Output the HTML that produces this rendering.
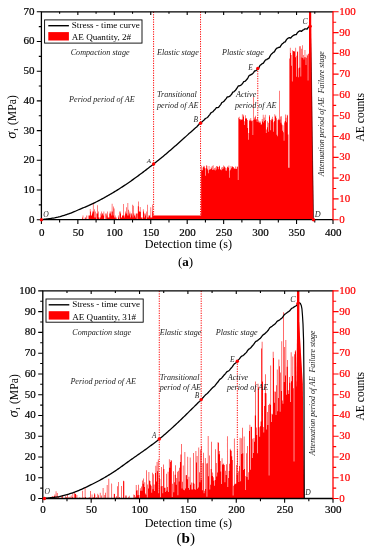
<!DOCTYPE html>
<html><head><meta charset="utf-8"><title>Stress - time curve and AE counts</title>
<style>html,body{margin:0;padding:0;background:#fff}svg{display:block}</style></head>
<body>
<svg width="370" height="550" viewBox="0 0 370 550">
<rect width="370" height="550" fill="#fff"/>
<path d="M82.22 219.7V217.62 H82.73V215.54 H83.24V219.7 H83.75V219.7 H84.27V219.7 H84.78V217.62 H85.29V217.62 H85.8V219.7 H86.31V215.54 H86.82V219.7 H87.33V219.7 H87.84V215.54 H88.35V219.7 H88.86V215.54 H89.37V215.54 H89.88V209.05 H90.39V211.38 H90.9V215.54 H91.41V215.54 H91.92V213.46 H92.43V211.38 H92.94V202.65 H93.45V211.38 H93.96V217.62 H94.47V209.3 H94.98V211.38 H95.49V217.62 H96V213.46 H96.51V219.7 H97.02V205.37 H97.53V213.46 H98.04V211.38 H98.55V217.62 H99.06V219.7 H99.57V217.62 H100.08V217.62 H100.59V213.46 H101.11V211.38 H101.62V215.54 H102.13V213.46 H102.64V213.46 H103.15V215.54 H103.66V211.38 H104.17V219.7 H104.68V219.7 H105.19V213.46 H105.7V219.7 H106.21V213.46 H106.72V215.54 H107.23V211.38 H107.74V217.62 H108.25V217.62 H108.76V217.62 H109.27V213.46 H109.78V211.38 H110.29V213.46 H110.8V211.38 H111.31V215.54 H111.82V203.82 H112.33V211.38 H112.84V215.54 H113.35V206.6 H113.86V208.5 H114.37V217.62 H114.88V215.54 H115.39V217.62 H115.9V219.7 H116.41V217.62 H116.92V219.7 H117.43V219.7 H117.95V215.54 H118.46V217.62 H118.97V211.38 H119.48V219.7 H119.99V211.38 H120.5V213.46 H121.01V217.62 H121.52V217.62 H122.03V215.54 H122.54V215.54 H123.05V204.11 H123.56V215.54 H124.07V217.62 H124.58V215.54 H125.09V211.38 H125.6V213.46 H126.11V207.23 H126.62V213.46 H127.13V215.54 H127.64V203.07 H128.15V209.68 H128.66V215.54 H129.17V213.46 H129.68V211.38 H130.19V217.62 H130.7V213.46 H131.21V213.46 H131.72V215.54 H132.23V204.72 H132.74V217.62 H133.25V205.82 H133.76V213.46 H134.27V215.54 H134.78V215.54 H135.3V217.62 H135.81V213.46 H136.32V213.46 H136.83V219.7 H137.34V213.46 H137.85V206.19 H138.36V201.39 H138.87V211.38 H139.38V211.38 H139.89V207.01 H140.4V211.65 H140.91V217.62 H141.42V217.62 H141.93V219.7 H142.44V217.62 H142.95V209.3 H143.46V211.38 H143.97V213.46 H144.48V217.62 H144.99V213.46 H145.5V215.54 H146.01V219.7 H146.52V211.38 H147.03V204.76 H147.54V217.62 H148.05V217.62 H148.56V215.54 H149.07V215.54 H149.58V215.54 H150.09V217.62 H150.6V207.23 H151.11V217.62 H151.62V217.62 H152.14V204.49 H152.65V211.38 H153.16V215.44 H153.67V215.44 H154.18V215.44 H154.69V215.44 H155.2V215.44 H155.71V215.44 H156.22V215.44 H156.73V215.44 H157.24V215.44 H157.75V215.44 H158.26V215.44 H158.77V215.44 H159.28V215.44 H159.79V215.44 H160.3V215.44 H160.81V215.44 H161.32V215.44 H161.83V215.44 H162.34V215.44 H162.85V215.44 H163.36V215.44 H163.87V215.44 H164.38V215.44 H164.89V215.44 H165.4V215.44 H165.91V215.44 H166.42V215.44 H166.93V215.44 H167.44V215.44 H167.95V215.44 H168.46V215.44 H168.98V215.44 H169.49V215.44 H170V215.44 H170.51V215.44 H171.02V215.44 H171.53V215.44 H172.04V215.44 H172.55V215.44 H173.06V215.44 H173.57V215.44 H174.08V215.44 H174.59V215.44 H175.1V215.44 H175.61V215.44 H176.12V215.44 H176.63V215.44 H177.14V215.44 H177.65V215.44 H178.16V215.44 H178.67V215.44 H179.18V215.44 H179.69V215.44 H180.2V215.44 H180.71V215.44 H181.22V215.44 H181.73V215.44 H182.24V215.44 H182.75V215.44 H183.26V215.44 H183.77V215.44 H184.28V215.44 H184.79V215.44 H185.3V215.44 H185.81V215.44 H186.33V215.44 H186.84V215.44 H187.35V215.44 H187.86V215.44 H188.37V215.44 H188.88V215.44 H189.39V215.44 H189.9V215.44 H190.41V215.44 H190.92V215.44 H191.43V215.44 H191.94V215.44 H192.45V215.44 H192.96V215.44 H193.47V215.44 H193.98V215.44 H194.49V215.44 H195V215.44 H195.51V215.44 H196.02V215.44 H196.53V215.44 H197.04V215.44 H197.55V215.44 H198.06V215.44 H198.57V215.44 H199.08V215.44 H199.59V215.44 H200.1V215.44 H200.61V215.44 H201.12V165.68 H201.63V170.33 H202.14V170.19 H202.65V167.62 H203.17V166.63 H203.68V165.71 H204.19V166.53 H204.7V168.19 H205.21V175.84 H205.72V168.29 H206.23V165.26 H206.74V165.7 H207.25V168.63 H207.76V170.14 H208.27V173.2 H208.78V166.01 H209.29V169.81 H209.8V169.35 H210.31V169.26 H210.82V167.32 H211.33V168.62 H211.84V165.94 H212.35V170.08 H212.86V165.34 H213.37V169.55 H213.88V169.68 H214.39V168.05 H214.9V170.62 H215.41V167.48 H215.92V169.52 H216.43V165.9 H216.94V166.19 H217.45V166.87 H217.96V167.02 H218.47V169.15 H218.98V166.6 H219.49V165.68 H220.01V168.99 H220.52V169.97 H221.03V170.33 H221.54V167.61 H222.05V169.26 H222.56V166.9 H223.07V165.51 H223.58V168.51 H224.09V166.16 H224.6V167.08 H225.11V167.75 H225.62V170.48 H226.13V170.76 H226.64V168.21 H227.15V166.8 H227.66V166.74 H228.17V167.68 H228.68V165.61 H229.19V177.71 H229.7V170.43 H230.21V169.6 H230.72V165.91 H231.23V168.29 H231.74V166.87 H232.25V166.31 H232.76V167.36 H233.27V167.04 H233.78V168.56 H234.29V168.62 H234.8V168.71 H235.31V166.6 H235.82V168.95 H236.33V168.71 H236.84V166.44 H237.36V166.84 H237.87V179.97 H238.38V117.81 H238.89V116.69 H239.4V119.09 H239.91V120.29 H240.42V119 H240.93V119.73 H241.44V119.55 H241.95V114.16 H242.46V119.5 H242.97V114.75 H243.48V116.61 H243.99V125.06 H244.5V121.17 H245.01V115.28 H245.52V118.6 H246.03V118.74 H246.54V117.92 H247.05V120.06 H247.56V127.89 H248.07V139.75 H248.58V133.12 H249.09V120.72 H249.6V119.5 H250.11V120.61 H250.62V118.12 H251.13V121.13 H251.64V120.32 H252.15V120.63 H252.66V134.93 H253.17V97.04 H253.68V120.02 H254.2V118.46 H254.71V116.89 H255.22V115.84 H255.73V119.81 H256.24V118.93 H256.75V121.7 H257.26V117.04 H257.77V121.74 H258.28V120.38 H258.79V122.79 H259.3V121.48 H259.81V122.89 H260.32V121.5 H260.83V124.82 H261.34V124.31 H261.85V119.12 H262.36V121.52 H262.87V114.67 H263.38V122.56 H263.89V117.41 H264.4V121.03 H264.91V114.74 H265.42V120.08 H265.93V132.9 H266.44V129.61 H266.95V127.26 H267.46V121.16 H267.97V131.77 H268.48V122.85 H268.99V116.53 H269.5V115.06 H270.01V119.88 H270.52V130.33 H271.04V118.84 H271.55V120.42 H272.06V116.66 H272.57V119.25 H273.08V131.84 H273.59V122.36 H274.1V121.04 H274.61V114.24 H275.12V116.46 H275.63V115.4 H276.14V118.2 H276.65V134.68 H277.16V136.24 H277.67V120.1 H278.18V118.77 H278.69V120.29 H279.2V90.8 H279.71V119.49 H280.22V116.49 H280.73V122.78 H281.24V116.35 H281.75V124.49 H282.26V130.72 H282.77V125.28 H283.28V132.13 H283.79V140.64 H284.3V122.44 H284.81V121.02 H285.32V114.4 H285.83V117.67 H286.34V122.32 H286.85V114.75 H287.36V115.5 H287.87V134.49 H288.39V167.72 H288.9V167.72 H289.41V58.55 H289.92V47.79 H290.43V53.02 H290.94V54.96 H291.45V65.73 H291.96V81.48 H292.47V50.2 H292.98V51.31 H293.49V51.04 H294V51.61 H294.51V51.14 H295.02V57.2 H295.53V47.73 H296.04V76.78 H296.55V55.69 H297.06V51.73 H297.57V51.48 H298.08V77.16 H298.59V68.27 H299.1V46.37 H299.61V67.5 H300.12V46.21 H300.63V76.58 H301.14V48.77 H301.65V57.56 H302.16V45.32 H302.67V57.92 H303.18V55.09 H303.69V59.43 H304.2V57.25 H304.71V49.99 H305.23V57.21 H305.74V64.99 H306.25V57.72 H306.76V54.43 H307.27V55.53 H307.78V80.38 H308.29V53.73 H308.8V53.7 H309.31V46.26 H309.82V219.7 H310.33V219.7 H310.84V219.7 H311.35V219.7 H311.86V219.7 H312.37V219.7 H312.88V219.7 Z" fill="#f00"/>
<path d="M309.31 219.7L309.31 26.35L311.13 26.35L313.61 219.7Z" fill="#f00"/>
<line x1="153.59" y1="11.8" x2="153.59" y2="219.7" stroke="#f00" stroke-width="1" stroke-dasharray="1.2 1.23"/>
<line x1="200.54" y1="11.8" x2="200.54" y2="219.7" stroke="#f00" stroke-width="1" stroke-dasharray="1.2 1.23"/>
<line x1="257.77" y1="68.41" x2="257.77" y2="219.7" stroke="#f00" stroke-width="1" stroke-dasharray="1.2 1.23"/>
<polyline points="41.4,219.7 42.49,219.54 43.59,219.39 44.68,219.25 45.77,219.11 46.87,218.96 47.96,218.82 49.05,218.67 50.15,218.52 51.24,218.37 52.34,218.2 53.43,218.02 54.52,217.84 55.62,217.63 56.71,217.41 57.8,217.17 58.9,216.9 59.99,216.62 61.08,216.31 62.18,215.99 63.27,215.66 64.36,215.31 65.46,214.95 66.55,214.58 67.64,214.2 68.74,213.81 69.83,213.43 70.92,213.03 72.02,212.61 73.11,212.17 74.21,211.7 75.3,211.22 76.39,210.73 77.49,210.24 78.58,209.75 79.67,209.28 80.77,208.82 81.86,208.37 82.95,207.93 84.05,207.5 85.14,207.06 86.23,206.61 87.33,206.15 88.42,205.69 89.51,205.2 90.61,204.69 91.7,204.18 92.79,203.65 93.89,203.12 94.98,202.58 96.08,202.04 97.17,201.48 98.26,200.92 99.36,200.35 100.45,199.77 101.54,199.18 102.64,198.59 103.73,197.99 104.82,197.39 105.92,196.78 107.01,196.16 108.1,195.53 109.2,194.9 110.29,194.27 111.38,193.62 112.48,192.97 113.57,192.32 114.66,191.66 115.76,191 116.85,190.33 117.95,189.65 119.04,188.96 120.13,188.27 121.23,187.56 122.32,186.85 123.41,186.13 124.51,185.41 125.6,184.68 126.69,183.94 127.79,183.19 128.88,182.44 129.97,181.68 131.07,180.91 132.16,180.14 133.25,179.36 134.35,178.57 135.44,177.78 136.53,176.99 137.63,176.19 138.72,175.38 139.81,174.57 140.91,173.76 142,172.94 143.1,172.12 144.19,171.29 145.28,170.46 146.38,169.63 147.47,168.79 148.56,167.95 149.66,167.1 150.75,166.26 151.84,165.41 152.94,164.55 154.03,163.7 155.12,162.84 156.22,161.97 157.31,161.1 158.4,160.22 159.5,159.33 160.59,158.44 161.69,157.54 162.78,156.63 163.87,155.72 164.97,154.81 166.06,153.89 167.15,152.96 168.25,152.03 169.34,151.09 170.43,150.15 171.53,149.21 172.62,148.26 173.71,147.31 174.81,146.35 175.9,145.39 176.99,144.43 178.09,143.46 179.18,142.49 180.27,141.52 181.37,140.54 182.46,139.57 183.56,138.58 184.65,137.6 185.74,136.62 186.84,135.63 187.93,134.62 189.02,133.59 190.12,132.62 191.21,131.78 192.3,130.71 193.4,129.72 194.49,128.66 195.58,127.79 196.68,127.03 197.77,125.69 198.86,124.53 199.96,123.24 201.05,122.47 202.14,121.92 203.24,120.65 204.33,119.72 205.43,118.48 206.52,117.97 207.61,117.47 208.71,115.91 209.8,114.62 210.89,112.82 211.99,112.22 213.08,111.7 214.17,110.23 215.27,109.25 216.36,107.68 217.45,107.68 218.55,107.38 219.64,105.93 220.73,104.61 221.83,102.51 222.92,102.04 224.01,101.27 225.11,99.8 226.2,98.57 227.3,96.79 228.39,96.86 229.48,96.48 230.58,95.44 231.67,94.21 232.76,92.17 233.86,91.81 234.95,90.84 236.04,89.5 237.14,87.98 238.23,85.98 239.32,85.94 240.42,85.38 241.51,84.68 242.6,83.46 243.7,81.61 244.79,81.41 245.88,80.4 246.98,79.34 248.07,77.57 249.17,75.45 250.26,75.18 251.35,74.37 252.45,73.89 253.54,72.55 254.63,70.91 255.73,70.81 256.82,69.92 257.91,69.25 259.01,67.35 260.1,65.24 261.19,64.66 262.29,63.57 263.38,63.09 264.47,61.44 265.57,59.85 266.66,59.61 267.75,58.78 268.85,58.4 269.94,56.42 271.04,54.46 272.13,53.6 273.22,52.37 274.32,51.88 275.41,49.93 276.5,48.42 277.6,47.97 278.69,47.34 279.78,47.35 280.88,45.55 281.97,44.05 283.06,43.19 284.16,42.2 285.25,41.9 286.34,39.91 287.44,38.6 288.53,37.99 289.62,37.66 290.72,38.05 291.81,36.64 292.91,35.77 294,35.11 295.09,34.67 296.19,34.69 297.28,32.89 298.37,31.82 299.47,30.99 300.56,30.85 301.65,31.31 302.75,30.09 303.84,29.57 304.93,28.91 306.03,28.89 307.12,29.06 308.21,27.42 309.31,26.4 310.11,25.5" fill="none" stroke="#000" stroke-width="1.3" stroke-linejoin="round"/>
<polyline points="310.26,26.2 311.42,71.2 312.59,160.3 313.61,219.7" fill="none" stroke="#000" stroke-width="0.55" stroke-linejoin="round"/>
<rect x="309.01" y="11.8" width="2.2" height="207.9" fill="#f00"/>
<path d="M41.4 11.15V219.7H333M41.4 11.8H333" fill="none" stroke="#000" stroke-width="1.3"/>
<line x1="333" y1="11.15" x2="333" y2="220.35" stroke="#f00" stroke-width="1.3"/>
<path d="M41.4 219.7h-4.6M41.4 204.85h-2.6M41.4 190h-4.6M41.4 175.15h-2.6M41.4 160.3h-4.6M41.4 145.45h-2.6M41.4 130.6h-4.6M41.4 115.75h-2.6M41.4 100.9h-4.6M41.4 86.05h-2.6M41.4 71.2h-4.6M41.4 56.35h-2.6M41.4 41.5h-4.6M41.4 26.65h-2.6M41.4 11.8h-4.6M41.4 219.7v4.3M59.62 219.7v2.7M59.62 11.8v2M77.85 219.7v4.3M77.85 11.8v3.2M96.08 219.7v2.7M96.08 11.8v2M114.3 219.7v4.3M114.3 11.8v3.2M132.53 219.7v2.7M132.53 11.8v2M150.75 219.7v4.3M150.75 11.8v3.2M168.98 219.7v2.7M168.98 11.8v2M187.2 219.7v4.3M187.2 11.8v3.2M205.43 219.7v2.7M205.43 11.8v2M223.65 219.7v4.3M223.65 11.8v3.2M241.88 219.7v2.7M241.88 11.8v2M260.1 219.7v4.3M260.1 11.8v3.2M278.33 219.7v2.7M278.33 11.8v2M296.55 219.7v4.3M296.55 11.8v3.2M314.78 219.7v2.7M314.78 11.8v2M333 219.7v4.3" stroke="#000" stroke-width="1.1" fill="none"/>
<path d="M333 219.7h5.6M333 209.3h3.2M333 198.91h5.6M333 188.51h3.2M333 178.12h5.6M333 167.72h3.2M333 157.33h5.6M333 146.94h3.2M333 136.54h5.6M333 126.14h3.2M333 115.75h5.6M333 105.36h3.2M333 94.96h5.6M333 84.56h3.2M333 74.17h5.6M333 63.78h3.2M333 53.38h5.6M333 42.99h3.2M333 32.59h5.6M333 22.2h3.2M333 11.8h5.6" stroke="#f00" stroke-width="1.1" fill="none"/>
<g font-family="'Liberation Serif', serif" font-size="11" fill="#000" stroke="#000" stroke-width="0.2">
<text x="34.4" y="222.6" text-anchor="end">0</text>
<text x="34.4" y="192.9" text-anchor="end">10</text>
<text x="34.4" y="163.2" text-anchor="end">20</text>
<text x="34.4" y="133.5" text-anchor="end">30</text>
<text x="34.4" y="103.8" text-anchor="end">40</text>
<text x="34.4" y="74.1" text-anchor="end">50</text>
<text x="34.4" y="44.4" text-anchor="end">60</text>
<text x="34.4" y="14.7" text-anchor="end">70</text>
<text x="41.7" y="235.7" text-anchor="middle">0</text>
<text x="78.15" y="235.7" text-anchor="middle">50</text>
<text x="114.6" y="235.7" text-anchor="middle">100</text>
<text x="151.05" y="235.7" text-anchor="middle">150</text>
<text x="187.5" y="235.7" text-anchor="middle">200</text>
<text x="223.95" y="235.7" text-anchor="middle">250</text>
<text x="260.4" y="235.7" text-anchor="middle">300</text>
<text x="296.85" y="235.7" text-anchor="middle">350</text>
<text x="333.3" y="235.7" text-anchor="middle">400</text>
</g>
<g font-family="'Liberation Serif', serif" font-size="11" fill="#f00" stroke="#f00" stroke-width="0.2">
<text x="339.2" y="222.7">0</text>
<text x="339.2" y="201.91">10</text>
<text x="339.2" y="181.12">20</text>
<text x="339.2" y="160.33">30</text>
<text x="339.2" y="139.54">40</text>
<text x="339.2" y="118.75">50</text>
<text x="339.2" y="97.96">60</text>
<text x="339.2" y="77.17">70</text>
<text x="339.2" y="56.38">80</text>
<text x="339.2" y="35.59">90</text>
<text x="339.2" y="14.8">100</text>
</g>
<text x="188.4" y="248.3" font-family="'Liberation Serif', serif" font-size="12.1" text-anchor="middle">Detection time (s)</text>
<text transform="translate(364 117.25) rotate(-90)" font-family="'Liberation Serif', serif" font-size="11.6" text-anchor="middle">AE counts</text>
<text transform="translate(15.6 116.95) rotate(-90)" font-family="'Liberation Serif', serif" font-size="11.7" text-anchor="middle"><tspan font-style="italic" font-size="14.5">σ</tspan><tspan font-size="7" dy="2.4">1</tspan><tspan dy="-2.4"> (MPa)</tspan></text>
<text x="185.5" y="265.8" font-family="'Liberation Serif', serif" font-size="13" text-anchor="middle">(<tspan font-weight="bold">a</tspan>)</text>
<rect x="44.6" y="19.9" width="97.4" height="23.2" fill="#fff" stroke="#000" stroke-width="0.9"/>
<line x1="48.3" y1="25.7" x2="68.9" y2="25.7" stroke="#000" stroke-width="1.4"/>
<rect x="48.3" y="32.1" width="20.6" height="8.4" fill="#f00"/>
<text x="71.8" y="28.1" font-family="'Liberation Serif', serif" font-size="9.1">Stress - time curve</text>
<text x="71.8" y="40.4" font-family="'Liberation Serif', serif" font-size="9.1">AE Quantity, 2#</text>
<g font-family="'Liberation Serif', serif" font-size="8.15" font-style="italic" fill="#222">
<text x="70.7" y="55.4">Compaction stage</text>
<text x="157" y="55.4">Elastic stage</text>
<text x="222" y="55.4">Plastic stage</text>
<text x="69.1" y="102.3">Period period of AE</text>
<text x="157" y="97.4">Transitional</text>
<text x="157" y="107.5">period of AE</text>
<text x="236" y="97.4">Active</text>
<text x="235" y="107.5">period of AE</text>
<text transform="translate(323.9 176.3) rotate(-90)" font-size="7.92" xml:space="preserve" style="white-space:pre">Attenuation period of AE  Failure stage</text>
</g>
<g font-family="'Liberation Serif', serif" font-style="italic" fill="#2a2a2a">
<text x="43.2" y="216.8" font-size="7.6">O</text>
<text x="146.7" y="162.5" font-size="7.0">A</text>
<text x="193.6" y="121.9" font-size="7.4">B</text>
<text x="248.3" y="70.3" font-size="7.4">E</text>
<text x="302.6" y="24" font-size="7.8">C</text>
<text x="314.7" y="217.1" font-size="8.2">D</text>
</g>
<circle cx="41.4" cy="219.7" r="1.7" fill="#f00"/>
<circle cx="153.59" cy="164.04" r="1.7" fill="#f00"/>
<circle cx="200.54" cy="123.17" r="1.7" fill="#f00"/>
<circle cx="257.77" cy="68.41" r="1.7" fill="#f00"/>
<circle cx="310.11" cy="26.2" r="1.7" fill="#f00"/>
<circle cx="313.46" cy="219.7" r="1.7" fill="#f00"/>
<path d="M50.54 498.5V498.5 H51.12V496.98 H51.7V496.58 H52.28V496.13 H52.86V498.5 H53.44V496.79 H54.02V495.88 H54.6V494.53 H55.18V498.5 H55.76V491.31 H56.34V498.5 H56.92V493.12 H57.5V498.5 H58.08V496.22 H58.66V498.5 H59.24V498.5 H59.83V498.5 H60.41V498.5 H60.99V498.5 H61.57V495.88 H62.15V495.19 H62.73V498.5 H63.31V498.5 H63.89V498.5 H64.47V498.5 H65.05V496.35 H65.63V498.5 H66.21V496.89 H66.79V498.5 H67.37V495.12 H67.95V498.5 H68.53V497.35 H69.11V498.5 H69.69V496.65 H70.27V498.5 H70.85V495.53 H71.43V498.5 H72.01V497.2 H72.59V492.96 H73.17V498.5 H73.75V498.5 H74.34V492.36 H74.92V494.02 H75.5V493.71 H76.08V498.5 H76.66V494.96 H77.24V498.5 H77.82V498.5 H78.4V498.5 H78.98V498.5 H79.56V497.18 H80.14V498.5 H80.72V498.5 H81.3V498.5 H81.88V498.5 H82.46V490.87 H83.04V498.5 H83.62V497.43 H84.2V498.5 H84.78V487.71 H85.36V497.09 H85.94V498.5 H86.52V498.5 H87.1V498.5 H87.68V498.5 H88.26V498.5 H88.85V497.04 H89.43V498.5 H90.01V490.96 H90.59V498.5 H91.17V498.5 H91.75V494.54 H92.33V498.5 H92.91V497.02 H93.49V498.5 H94.07V493.24 H94.65V494.6 H95.23V498.5 H95.81V498.5 H96.39V497.16 H96.97V498.5 H97.55V493.72 H98.13V495.36 H98.71V498.5 H99.29V498.5 H99.87V492.84 H100.45V498.5 H101.03V495.53 H101.61V498.5 H102.19V498.5 H102.77V488.12 H103.36V498.5 H103.94V498.5 H104.52V494.9 H105.1V492.85 H105.68V498.5 H106.26V498.5 H106.84V485.01 H107.42V498.5 H108V498.5 H108.58V478.78 H109.16V498.5 H109.74V498.5 H110.32V498.5 H110.9V498.5 H111.48V483.57 H112.06V498.5 H112.64V498.5 H113.22V498.5 H113.8V493.79 H114.38V494.04 H114.96V498.5 H115.54V497.38 H116.12V496.28 H116.7V498.5 H117.28V486.27 H117.87V498.5 H118.45V481.89 H119.03V497.1 H119.61V498.5 H120.19V498.5 H120.77V498.5 H121.35V486.04 H121.93V498.5 H122.51V498.5 H123.09V480.85 H123.67V481.13 H124.25V498.5 H124.83V498.5 H125.41V495.47 H125.99V495.47 H126.57V498.5 H127.15V498.5 H127.73V498.5 H128.31V497.29 H128.89V495.77 H129.47V498.5 H130.05V498.5 H130.63V498.5 H131.21V498.5 H131.79V498.5 H132.38V498.5 H132.96V498.5 H133.54V494.41 H134.12V494.95 H134.7V498.5 H135.28V496.83 H135.86V484.98 H136.44V490.5 H137.02V490.23 H137.6V495.36 H138.18V484.74 H138.76V494.95 H139.34V498.07 H139.92V488.3 H140.5V490.71 H141.08V486.4 H141.66V490.74 H142.24V480.4 H142.82V483.67 H143.4V478.49 H143.98V486.95 H144.56V482.26 H145.14V493.4 H145.72V494.72 H146.3V470.18 H146.89V497.51 H147.47V484.38 H148.05V488.4 H148.63V471.91 H149.21V480.51 H149.79V481.03 H150.37V484.61 H150.95V485.73 H151.53V492.66 H152.11V472.8 H152.69V489.26 H153.27V474.21 H153.85V484.47 H154.43V490.93 H155.01V472.9 H155.59V465.76 H156.17V481.46 H156.75V461.89 H157.33V471.31 H157.91V459.61 H158.49V493.23 H159.07V474.38 H159.65V478.94 H160.23V497.32 H160.81V486.2 H161.4V466.94 H161.98V485.91 H162.56V493.17 H163.14V464.48 H163.72V468.96 H164.3V487.63 H164.88V487.79 H165.46V491.99 H166.04V473.86 H166.62V490.68 H167.2V487.01 H167.78V471.87 H168.36V491.99 H168.94V459.33 H169.52V467.68 H170.1V461.93 H170.68V460.29 H171.26V460.53 H171.84V497 H172.42V483.75 H173V471.34 H173.58V492.15 H174.16V482.31 H174.74V474.8 H175.32V465.2 H175.91V484.69 H176.49V477.97 H177.07V471.66 H177.65V495.33 H178.23V470.85 H178.81V481.49 H179.39V467.87 H179.97V461.88 H180.55V454.47 H181.13V443.97 H181.71V488.47 H182.29V481.67 H182.87V465.58 H183.45V489.65 H184.03V490.22 H184.61V451.93 H185.19V488.55 H185.77V475.18 H186.35V474.99 H186.93V479.3 H187.51V456.74 H188.09V487.95 H188.67V476.75 H189.25V489.71 H189.83V457.47 H190.42V484.69 H191V482.45 H191.58V489.48 H192.16V489.42 H192.74V482.64 H193.32V453.04 H193.9V483.69 H194.48V489.16 H195.06V489.7 H195.64V450.95 H196.22V462.45 H196.8V455.92 H197.38V488.63 H197.96V487.56 H198.54V447.55 H199.12V472.3 H199.7V482.24 H200.28V449.84 H200.86V479.76 H201.44V446.07 H202.02V490.13 H202.6V462.93 H203.18V452.81 H203.76V493.25 H204.34V490.73 H204.93V458.01 H205.51V488.95 H206.09V463.42 H206.67V496.66 H207.25V463.21 H207.83V436.08 H208.41V476.16 H208.99V455.39 H209.57V489.49 H210.15V484.76 H210.73V468.95 H211.31V441.71 H211.89V476 H212.47V472.47 H213.05V477.17 H213.63V480.73 H214.21V485.67 H214.79V479.9 H215.37V449.26 H215.95V462.88 H216.53V476.56 H217.11V472.44 H217.69V442.28 H218.27V442.8 H218.85V454.28 H219.44V450.9 H220.02V460.98 H220.6V471.51 H221.18V484.03 H221.76V458.22 H222.34V464.52 H222.92V464.49 H223.5V463.54 H224.08V464.89 H224.66V482.27 H225.24V470.74 H225.82V475.01 H226.4V464.13 H226.98V436.26 H227.56V487.11 H228.14V478.12 H228.72V471.04 H229.3V463.77 H229.88V448.83 H230.46V450.27 H231.04V450.79 H231.62V456.36 H232.2V459.96 H232.78V495.49 H233.36V485.77 H233.95V438.49 H234.53V484.6 H235.11V483.73 H235.69V483.79 H236.27V464.91 H236.85V474.56 H237.43V449.42 H238.01V471.17 H238.59V481.91 H239.17V465.93 H239.75V437.86 H240.33V481.31 H240.91V438.33 H241.49V454.02 H242.07V427.63 H242.65V453.24 H243.23V469.88 H243.81V436.57 H244.39V469 H244.97V490.04 H245.55V476 H246.13V453.27 H246.71V477 H247.29V445.95 H247.87V479.69 H248.46V472.24 H249.04V430.89 H249.62V424.79 H250.2V469.78 H250.78V426.98 H251.36V426.68 H251.94V457.98 H252.52V438.63 H253.1V452.93 H253.68V438.04 H254.26V441.71 H254.84V415.58 H255.42V381.47 H256V427.56 H256.58V434.99 H257.16V453.25 H257.74V383.64 H258.32V387.13 H258.9V427.16 H259.48V436.73 H260.06V426.13 H260.64V421.44 H261.22V348.57 H261.8V341.73 H262.38V381.48 H262.97V427.01 H263.55V432.55 H264.13V406.01 H264.71V392.88 H265.29V374.25 H265.87V393.17 H266.45V429.56 H267.03V412.03 H267.61V425.09 H268.19V404.99 H268.77V475.46 H269.35V403.63 H269.93V404.87 H270.51V365.61 H271.09V421.95 H271.67V413.64 H272.25V414.45 H272.83V351.66 H273.41V357.97 H273.99V402.73 H274.57V391.42 H275.15V391.79 H275.73V414.88 H276.31V385.24 H276.89V369.48 H277.48V411.27 H278.06V397.96 H278.64V359.6 H279.22V366.27 H279.8V411.81 H280.38V372.44 H280.96V391.03 H281.54V341.35 H282.12V400.56 H282.7V403.76 H283.28V312.37 H283.86V382.02 H284.44V347 H285.02V375.44 H285.6V339.96 H286.18V394.63 H286.76V366.83 H287.34V359.91 H287.92V390.28 H288.5V394.03 H289.08V376.95 H289.66V382.68 H290.24V402.08 H290.82V352.17 H291.4V381.37 H291.99V376.06 H292.57V356.41 H293.15V388.27 H293.73V461.4 H294.31V354.16 H294.89V351.44 H295.47V350.2 H296.05V386.45 H296.63V381.38 H297.21V498.5 H297.79V498.5 H298.37V498.5 H298.95V498.5 H299.53V498.5 H300.11V498.5 H300.69V498.5 H301.27V498.5 H301.85V498.5 H302.43V498.5 H303.01V498.5 H303.59V498.5 H304.17V498.5 H304.75V498.5 Z" fill="#f00"/>
<path d="M294.79 498.5L297.21 322.04L299.14 322.04L302.82 384.32L304.27 498.5Z" fill="#f00"/>
<line x1="159.27" y1="290.9" x2="159.27" y2="498.5" stroke="#f00" stroke-width="1" stroke-dasharray="1.2 1.23"/>
<line x1="201.2" y1="290.9" x2="201.2" y2="498.5" stroke="#f00" stroke-width="1" stroke-dasharray="1.2 1.23"/>
<line x1="237.33" y1="361.19" x2="237.33" y2="498.5" stroke="#f00" stroke-width="1" stroke-dasharray="1.2 1.23"/>
<polyline points="42.8,498.5 43.77,498.4 44.73,498.3 45.7,498.21 46.67,498.12 47.64,498.03 48.6,497.94 49.57,497.85 50.54,497.76 51.51,497.66 52.47,497.56 53.44,497.45 54.41,497.34 55.38,497.22 56.34,497.09 57.31,496.94 58.28,496.78 59.24,496.61 60.21,496.41 61.18,496.2 62.15,495.97 63.11,495.72 64.08,495.47 65.05,495.2 66.02,494.92 66.98,494.63 67.95,494.34 68.92,494.03 69.89,493.73 70.85,493.42 71.82,493.1 72.79,492.78 73.75,492.44 74.72,492.09 75.69,491.72 76.66,491.35 77.62,490.96 78.59,490.55 79.56,490.14 80.53,489.72 81.49,489.29 82.46,488.85 83.43,488.41 84.4,487.96 85.36,487.5 86.33,487.04 87.3,486.58 88.26,486.11 89.23,485.64 90.2,485.17 91.17,484.7 92.13,484.23 93.1,483.75 94.07,483.26 95.04,482.77 96,482.27 96.97,481.76 97.94,481.25 98.91,480.73 99.87,480.2 100.84,479.67 101.81,479.13 102.77,478.58 103.74,478.03 104.71,477.47 105.68,476.91 106.64,476.34 107.61,475.77 108.58,475.18 109.55,474.6 110.51,474 111.48,473.4 112.45,472.78 113.42,472.15 114.38,471.51 115.35,470.86 116.32,470.21 117.28,469.54 118.25,468.86 119.22,468.18 120.19,467.49 121.15,466.8 122.12,466.1 123.09,465.4 124.06,464.7 125.02,464 125.99,463.3 126.96,462.6 127.93,461.9 128.89,461.2 129.86,460.51 130.83,459.82 131.79,459.13 132.76,458.45 133.73,457.77 134.7,457.09 135.66,456.41 136.63,455.73 137.6,455.06 138.57,454.38 139.53,453.7 140.5,453.02 141.47,452.34 142.44,451.66 143.4,450.98 144.37,450.29 145.34,449.6 146.3,448.91 147.27,448.21 148.24,447.51 149.21,446.8 150.17,446.09 151.14,445.37 152.11,444.64 153.08,443.91 154.04,443.17 155.01,442.43 155.98,441.67 156.95,440.91 157.91,440.14 158.88,439.36 159.85,438.57 160.81,437.77 161.78,436.96 162.75,436.15 163.72,435.33 164.68,434.5 165.65,433.66 166.62,432.81 167.59,431.96 168.55,431.1 169.52,430.24 170.49,429.37 171.46,428.49 172.42,427.61 173.39,426.72 174.36,425.83 175.32,424.93 176.29,424.02 177.26,423.11 178.23,422.2 179.19,421.28 180.16,420.35 181.13,419.43 182.1,418.49 183.06,417.56 184.03,416.62 185,415.68 185.97,414.73 186.93,413.79 187.9,412.84 188.87,411.87 189.83,410.9 190.8,409.92 191.77,408.99 192.74,408.1 193.7,407.15 194.67,406.14 195.64,405.17 196.61,404.22 197.57,403.21 198.54,402.26 199.51,401.44 200.48,400.54 201.44,399.43 202.41,398.32 203.38,397.29 204.34,396.18 205.31,395.09 206.28,394.26 207.25,393.51 208.21,392.49 209.18,391.34 210.15,390.34 211.12,389.31 212.08,388.15 213.05,387.25 214.02,386.61 214.99,385.7 215.95,384.41 216.92,383.19 217.89,382.03 218.85,380.63 219.82,379.38 220.79,378.65 221.76,377.94 222.72,376.77 223.69,375.54 224.66,374.55 225.63,373.37 226.59,372.09 227.56,371.38 228.53,370.99 229.5,370.13 230.46,368.88 231.43,367.79 232.4,366.59 233.36,365.06 234.33,363.85 235.3,363.23 236.27,362.49 237.23,361.27 238.2,360.14 239.17,359.15 240.14,357.85 241.1,356.58 242.07,355.98 243.04,355.61 244.01,354.78 244.97,353.75 245.94,352.87 246.91,351.71 247.87,350.21 248.84,349.14 249.81,348.57 250.78,347.74 251.74,346.54 252.71,345.5 253.68,344.43 254.65,342.96 255.61,341.66 256.58,341.06 257.55,340.6 258.52,339.75 259.48,338.89 260.45,338.16 261.42,337 262.38,335.59 263.35,334.69 264.32,334.19 265.29,333.35 266.25,332.29 267.22,331.41 268.19,330.3 269.16,328.73 270.12,327.45 271.09,326.84 272.06,326.25 273.03,325.38 273.99,324.68 274.96,324.02 275.93,322.86 276.89,321.57 277.86,320.88 278.83,320.45 279.8,319.69 280.76,318.87 281.73,318.2 282.7,317.13 283.67,315.59 284.63,314.42 285.6,313.81 286.57,313.09 287.54,312.24 288.5,311.66 289.47,311 290.44,309.79 291.4,308.59 292.37,308.01 293.34,307.55 294.31,306.83 295.27,306.23 296.24,305.73 297.21,304.65 297.98,303.44" fill="none" stroke="#000" stroke-width="1.3" stroke-linejoin="round"/>
<polyline points="297.98,303.4 299.14,302.73 300.3,303.36 301.27,305.43 301.95,308.96 302.43,314.77 303.01,324.12 303.59,340.72 303.98,384.32 304.27,498.5" fill="none" stroke="#000" stroke-width="1.2" stroke-linejoin="round"/>
<rect x="296.98" y="290.9" width="2.4" height="207.6" fill="#f00"/>
<path d="M42.8 290.25V498.5H333M42.8 290.9H333" fill="none" stroke="#000" stroke-width="1.3"/>
<line x1="333" y1="290.25" x2="333" y2="499.15" stroke="#f00" stroke-width="1.3"/>
<path d="M42.8 498.5h-4.6M42.8 488.12h-2.6M42.8 477.74h-4.6M42.8 467.36h-2.6M42.8 456.98h-4.6M42.8 446.6h-2.6M42.8 436.22h-4.6M42.8 425.84h-2.6M42.8 415.46h-4.6M42.8 405.08h-2.6M42.8 394.7h-4.6M42.8 384.32h-2.6M42.8 373.94h-4.6M42.8 363.56h-2.6M42.8 353.18h-4.6M42.8 342.8h-2.6M42.8 332.42h-4.6M42.8 322.04h-2.6M42.8 311.66h-4.6M42.8 301.28h-2.6M42.8 290.9h-4.6M42.8 498.5v4.3M66.98 498.5v2.7M66.98 290.9v2M91.17 498.5v4.3M91.17 290.9v3.2M115.35 498.5v2.7M115.35 290.9v2M139.53 498.5v4.3M139.53 290.9v3.2M163.72 498.5v2.7M163.72 290.9v2M187.9 498.5v4.3M187.9 290.9v3.2M212.08 498.5v2.7M212.08 290.9v2M236.27 498.5v4.3M236.27 290.9v3.2M260.45 498.5v2.7M260.45 290.9v2M284.63 498.5v4.3M284.63 290.9v3.2M308.82 498.5v2.7M308.82 290.9v2M333 498.5v4.3" stroke="#000" stroke-width="1.1" fill="none"/>
<path d="M333 498.5h5.6M333 488.12h3.2M333 477.74h5.6M333 467.36h3.2M333 456.98h5.6M333 446.6h3.2M333 436.22h5.6M333 425.84h3.2M333 415.46h5.6M333 405.08h3.2M333 394.7h5.6M333 384.32h3.2M333 373.94h5.6M333 363.56h3.2M333 353.18h5.6M333 342.8h3.2M333 332.42h5.6M333 322.04h3.2M333 311.66h5.6M333 301.28h3.2M333 290.9h5.6" stroke="#f00" stroke-width="1.1" fill="none"/>
<g font-family="'Liberation Serif', serif" font-size="11" fill="#000" stroke="#000" stroke-width="0.2">
<text x="35.8" y="501.4" text-anchor="end">0</text>
<text x="35.8" y="480.64" text-anchor="end">10</text>
<text x="35.8" y="459.88" text-anchor="end">20</text>
<text x="35.8" y="439.12" text-anchor="end">30</text>
<text x="35.8" y="418.36" text-anchor="end">40</text>
<text x="35.8" y="397.6" text-anchor="end">50</text>
<text x="35.8" y="376.84" text-anchor="end">60</text>
<text x="35.8" y="356.08" text-anchor="end">70</text>
<text x="35.8" y="335.32" text-anchor="end">80</text>
<text x="35.8" y="314.56" text-anchor="end">90</text>
<text x="35.8" y="293.8" text-anchor="end">100</text>
<text x="43.1" y="513.4" text-anchor="middle">0</text>
<text x="91.47" y="513.4" text-anchor="middle">50</text>
<text x="139.83" y="513.4" text-anchor="middle">100</text>
<text x="188.2" y="513.4" text-anchor="middle">150</text>
<text x="236.57" y="513.4" text-anchor="middle">200</text>
<text x="284.93" y="513.4" text-anchor="middle">250</text>
<text x="333.3" y="513.4" text-anchor="middle">300</text>
</g>
<g font-family="'Liberation Serif', serif" font-size="11" fill="#f00" stroke="#f00" stroke-width="0.2">
<text x="339.2" y="501.5">0</text>
<text x="339.2" y="480.74">10</text>
<text x="339.2" y="459.98">20</text>
<text x="339.2" y="439.22">30</text>
<text x="339.2" y="418.46">40</text>
<text x="339.2" y="397.7">50</text>
<text x="339.2" y="376.94">60</text>
<text x="339.2" y="356.18">70</text>
<text x="339.2" y="335.42">80</text>
<text x="339.2" y="314.66">90</text>
<text x="339.2" y="293.9">100</text>
</g>
<text x="188.3" y="527.1" font-family="'Liberation Serif', serif" font-size="12.1" text-anchor="middle">Detection time (s)</text>
<text transform="translate(364 396.2) rotate(-90)" font-family="'Liberation Serif', serif" font-size="11.6" text-anchor="middle">AE counts</text>
<text transform="translate(17.6 395.9) rotate(-90)" font-family="'Liberation Serif', serif" font-size="11.7" text-anchor="middle"><tspan font-style="italic" font-size="14.5">σ</tspan><tspan font-size="7" dy="2.4">1</tspan><tspan dy="-2.4"> (MPa)</tspan></text>
<text x="185.8" y="542.5" font-family="'Liberation Serif', serif" font-size="15.2" text-anchor="middle">(<tspan font-weight="bold">b</tspan>)</text>
<rect x="46" y="299" width="97.2" height="23.2" fill="#fff" stroke="#000" stroke-width="0.9"/>
<line x1="48.7" y1="304.8" x2="69.3" y2="304.8" stroke="#000" stroke-width="1.4"/>
<rect x="48.7" y="311.2" width="20.6" height="8.4" fill="#f00"/>
<text x="72.2" y="307.2" font-family="'Liberation Serif', serif" font-size="9.1">Stress - time curve</text>
<text x="72.2" y="319.5" font-family="'Liberation Serif', serif" font-size="9.1">AE Quantity, 31#</text>
<g font-family="'Liberation Serif', serif" font-size="8.15" font-style="italic" fill="#222">
<text x="72.3" y="335.3">Compaction stage</text>
<text x="159.7" y="335.4">Elastic stage</text>
<text x="215.8" y="334.8">Plastic stage</text>
<text x="70.4" y="383.9">Period period of AE</text>
<text x="159.7" y="380">Transitional</text>
<text x="159.7" y="389.7">period of AE</text>
<text x="227.8" y="380">Active</text>
<text x="226.9" y="389.7">period of AE</text>
<text transform="translate(314.5 455.6) rotate(-90)" font-size="7.92" xml:space="preserve" style="white-space:pre">Attenuation period of AE  Failure stage</text>
</g>
<g font-family="'Liberation Serif', serif" font-style="italic" fill="#2a2a2a">
<text x="44.4" y="493.5" font-size="7.6">O</text>
<text x="152" y="438.3" font-size="7.2">A</text>
<text x="194.7" y="397.5" font-size="7.4">B</text>
<text x="229.9" y="361.8" font-size="7.6">E</text>
<text x="290.3" y="302.1" font-size="8.2">C</text>
<text x="305.2" y="495" font-size="7.6">D</text>
</g>
<circle cx="44.4" cy="498.5" r="1.7" fill="#f00"/>
<circle cx="159.27" cy="439.04" r="1.7" fill="#f00"/>
<circle cx="201.2" cy="399.6" r="1.7" fill="#f00"/>
<circle cx="237.33" cy="361.19" r="1.7" fill="#f00"/>
<circle cx="297.98" cy="303.4" r="1.7" fill="#f00"/>
</svg>
</body></html>
